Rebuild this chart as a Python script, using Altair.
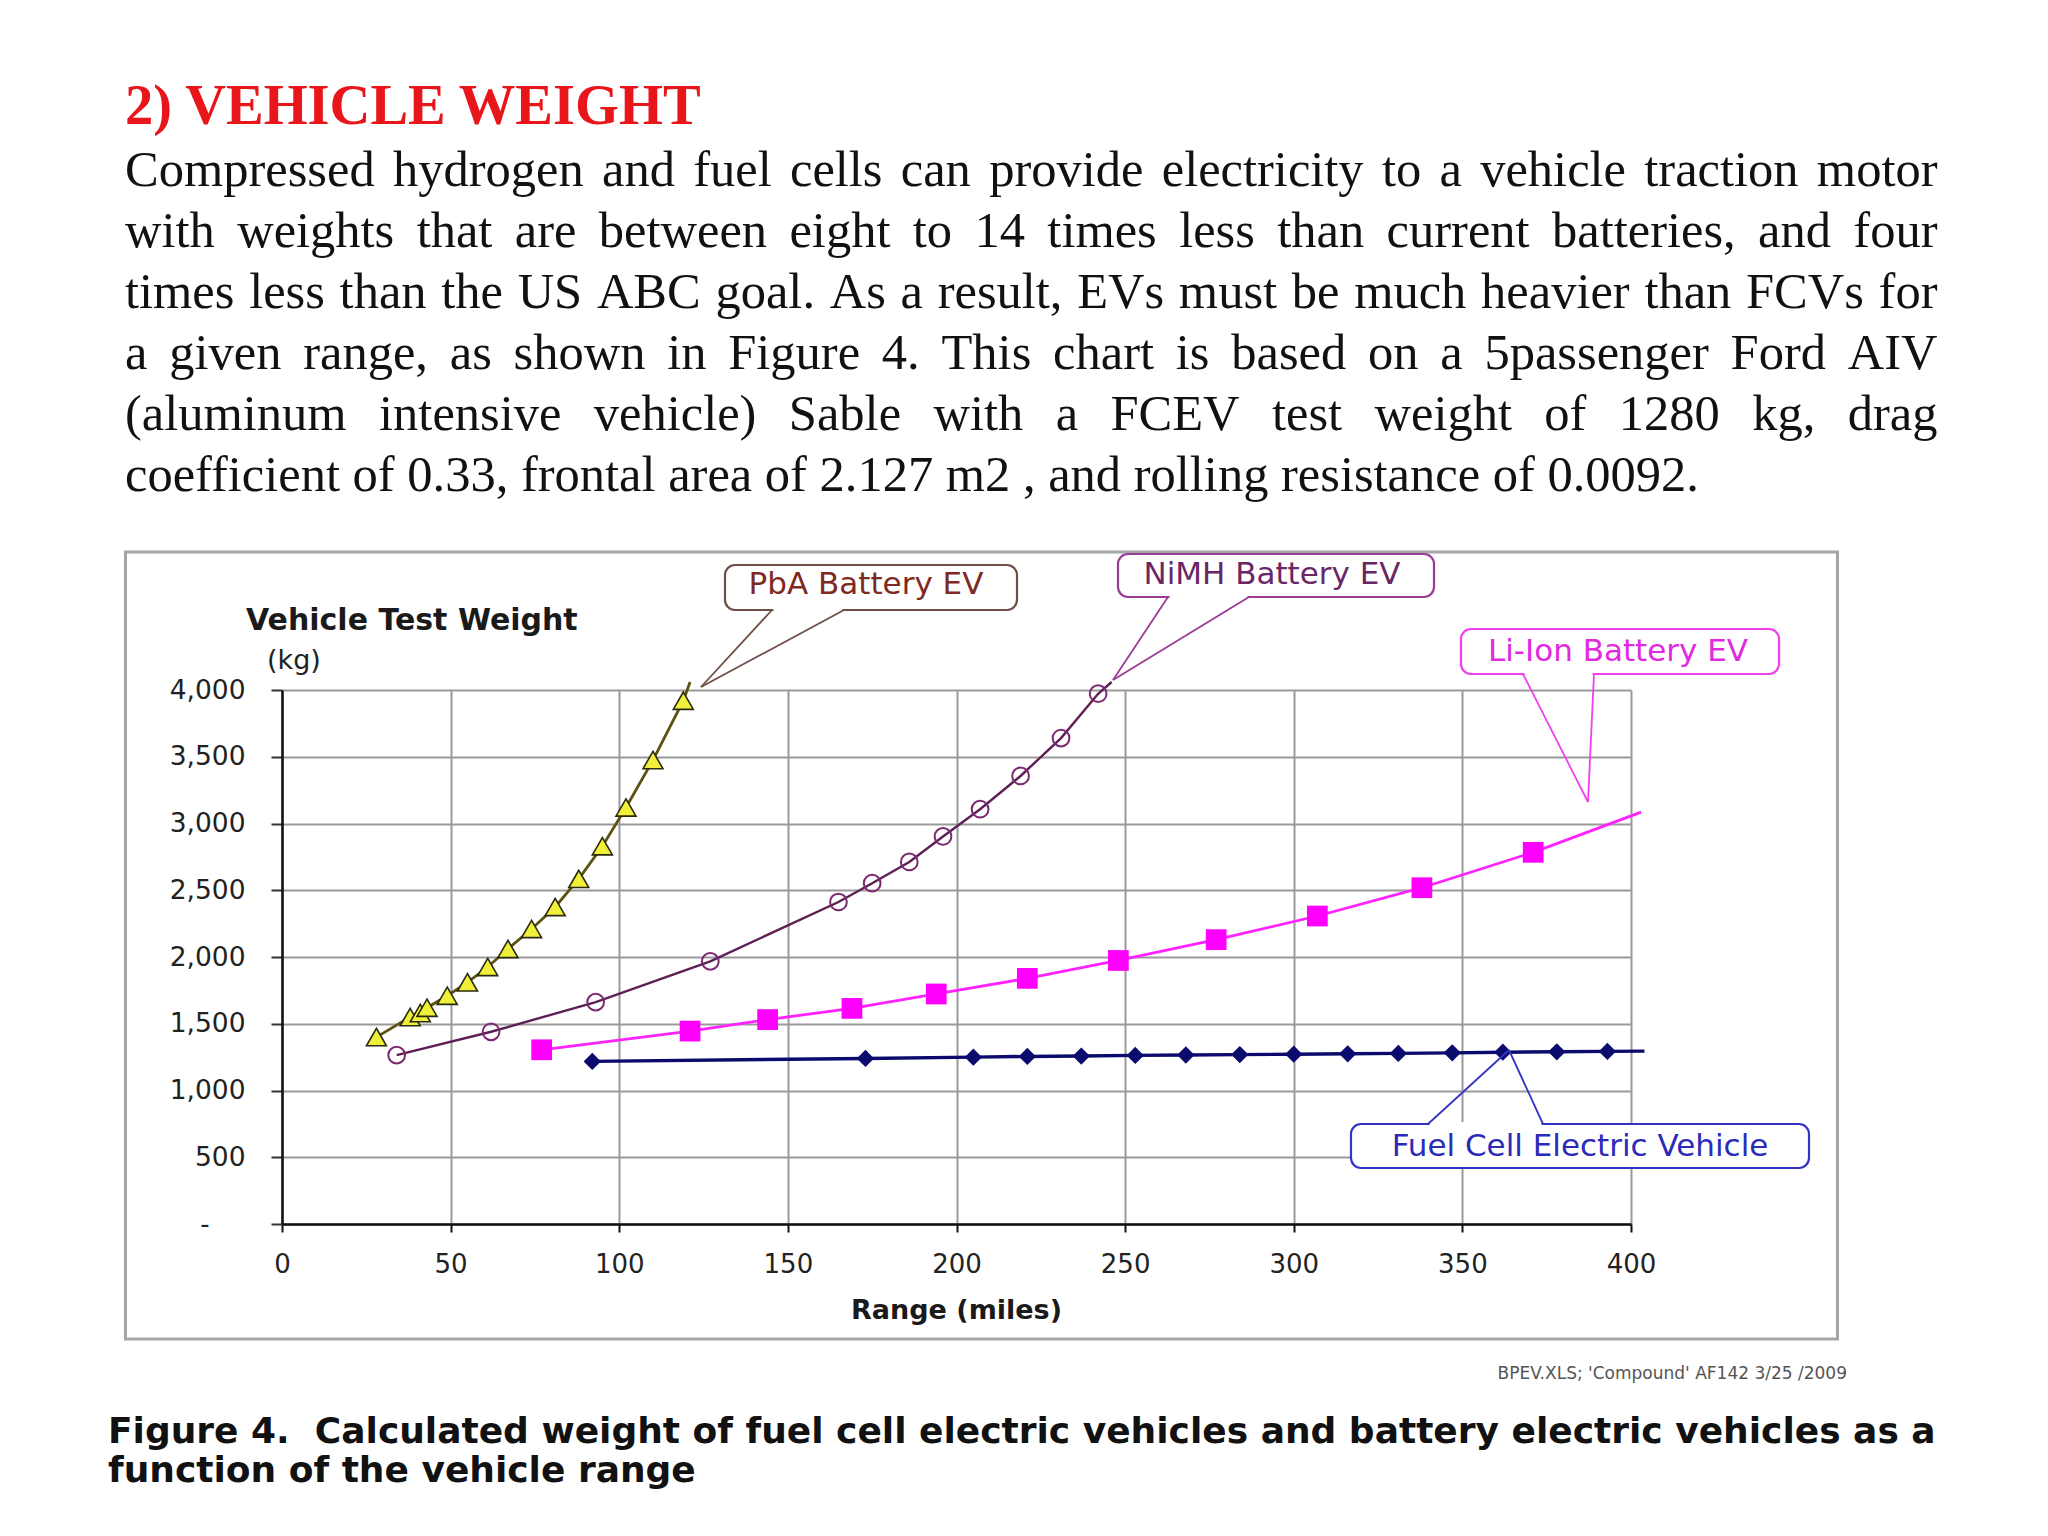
import altair as alt
import pandas as pd

# ---------------- chart data ----------------
pba_range = [28, 38, 41, 43, 49, 55, 61, 67, 74, 81, 88, 95, 102, 110, 119, 121]
pba_weight = [1400, 1550, 1580, 1620, 1710, 1810, 1925, 2060, 2210, 2375, 2585, 2830, 3120, 3475, 3920, 4060]

nimh_range = [34, 62, 93, 127, 165, 175, 186, 196, 207, 219, 231, 242, 246]
nimh_weight = [1265, 1440, 1662, 1967, 2412, 2553, 2712, 2903, 3107, 3356, 3640, 3972, 4060]

li_range = [77, 121, 144, 169, 194, 221, 248, 277, 307, 338, 371, 403]
li_weight = [1305, 1445, 1531, 1615, 1723, 1840, 1974, 2130, 2307, 2519, 2784, 3085]

fc_range = [92, 173, 205, 221, 237, 253, 268, 284, 300, 316, 331, 347, 362, 378, 393, 404]
fc_weight = [1218, 1240, 1250, 1255, 1258, 1263, 1266, 1269, 1272, 1275, 1278, 1282, 1287, 1290, 1293, 1295]

x_ticks = [0, 50, 100, 150, 200, 250, 300, 350, 400]
y_ticks = [0, 500, 1000, 1500, 2000, 2500, 3000, 3500, 4000]

heading = "2) VEHICLE WEIGHT"
para_lines = [
    "Compressed hydrogen and fuel cells can provide electricity to a vehicle traction motor",
    "with weights that are between eight to 14 times less than current batteries, and four",
    "times less than the US ABC goal. As a result, EVs must be much heavier than FCVs for",
    "a given range, as shown in Figure 4. This chart is based on a 5passenger Ford AIV",
    "(aluminum intensive vehicle) Sable with a FCEV test weight of 1280 kg, drag",
    "coefficient of 0.33, frontal area of 2.127 m2 , and rolling resistance of 0.0092.",
]
y_title_1 = "Vehicle Test Weight"
y_title_2 = "(kg)"
x_title = "Range (miles)"
callout_names = ["PbA Battery EV", "NiMH Battery EV", "Li-Ion Battery EV", "Fuel Cell Electric Vehicle"]
source_note = "BPEV.XLS; 'Compound' AF142 3/25 /2009"
caption_lines = [
    "Figure 4.\u00a0 Calculated weight of fuel cell electric vehicles and battery electric vehicles as a",
    "function of the vehicle range",
]

# ---------------- layout (page pixels) ----------------
W, H = 1349, 534          # plot area
OX, OY = 282, 690         # page position of plot origin


def rx(v):
    return v - OX


def ry(v):
    return v - OY


SERIF = "Liberation Serif"
SANS = "DejaVu Sans"

x_scale = alt.Scale(domain=[0, 400], nice=False, zero=False)
y_scale = alt.Scale(domain=[0, 4000], nice=False)
grid_col = "#9a9a9a"
x_axis = alt.Axis(values=x_ticks, title=None, grid=True, gridColor=grid_col, gridWidth=2,
                  domainColor="#111111", domainWidth=2.5, tickColor="#111111", tickWidth=2,
                  tickSize=8, labelFont=SANS, labelFontSize=26, labelColor="#222222",
                  labelPadding=19, labelFlush=False, labelOverlap=False)
y_axis = alt.Axis(values=y_ticks, title=None, grid=True, gridColor=grid_col, gridWidth=2,
                  domainColor="#111111", domainWidth=2.5, tickColor="#333333", tickWidth=2,
                  tickSize=11, labelFont=SANS, labelFontSize=26.5, labelColor="#222222",
                  labelPadding=26, labelOverlap=False,
                  labelExpr="datum.value == 0 ? '' : format(datum.value, ',')")


def series_layers(xs, ys, line_color, line_width, point_kw):
    df = pd.DataFrame({"range": xs, "weight": ys})
    base = alt.Chart(df).encode(
        x=alt.X("range:Q", scale=x_scale, axis=x_axis),
        y=alt.Y("weight:Q", scale=y_scale, axis=y_axis),
    )
    line = base.mark_line(color=line_color, strokeWidth=line_width, clip=False)
    pts = base.transform_filter("datum.range <= 400 && datum.weight <= 4000").mark_point(
        opacity=1, **point_kw)
    return [line, pts]


data_layers = []
data_layers += series_layers(fc_range, fc_weight, "#0b0b6e", 3.4,
                             dict(shape="diamond", size=300, filled=True, color="#0b0b6e"))
data_layers += series_layers(li_range, li_weight, "#ff22ff", 2.8,
                             dict(shape="square", size=430, filled=True, color="#ff00ff"))
data_layers += series_layers(nimh_range, nimh_weight, "#5e1f55", 2.4,
                             dict(shape="circle", size=280, filled=False, color="#7b2a72",
                                  strokeWidth=2))
data_layers += series_layers(pba_range, pba_weight, "#5e5210", 2.8,
                             dict(shape="triangle-up", size=400, filled=True, color="#f0f03a",
                                  stroke="#2a2a10", strokeWidth=1.6))

PX = dict(scale=None, axis=None)


def text_layer(rows, font, size, weight="normal", align="left", baseline="alphabetic"):
    df = pd.DataFrame(rows, columns=["t", "x", "y", "c"])
    return alt.Chart(df).mark_text(font=font, fontSize=size, fontWeight=weight,
                                   align=align, baseline=baseline).encode(
        x=alt.X("x:Q", **PX), y=alt.Y("y:Q", **PX), text="t:N",
        color=alt.Color("c:N", scale=None, legend=None))


# ---- frame around the chart ----
frame_df = pd.DataFrame([{"x": rx(125.5), "x2": rx(1837.5), "y": ry(552), "y2": ry(1339)}])
frame = alt.Chart(frame_df).mark_rect(fillOpacity=0, stroke="#a6a6a6", strokeWidth=3).encode(
    x=alt.X("x:Q", **PX), x2="x2:Q", y=alt.Y("y:Q", **PX), y2="y2:Q")

# ---- callouts ----
callout_geo = [
    # box (x1, y1, x2, y2), pointer base xs, base y, tip, text pos, text colour, border colour
    ((725, 565, 1017, 610), (772, 844), 610, (701, 687), (866, 585), "#7e2a22", "#6e5048"),
    ((1118, 554, 1434, 597), (1168, 1249), 597, (1113, 680), (1272, 575), "#6a2766", "#9a3c94"),
    ((1461, 629, 1779, 674), (1523, 1594), 674, (1588, 802), (1618, 652), "#e02ae0", "#f040f0"),
    ((1351, 1124, 1809, 1168), (1428, 1543), 1124, (1509, 1050), (1580, 1147), "#2b2bb8", "#3434c4"),
]
box_rows, gap_rows, ptr_rows, ctext_rows = [], [], [], []
for name, (box, bx, by, tip, tpos, tc, bc) in zip(callout_names, callout_geo):
    box_rows.append({"x": rx(box[0]), "x2": rx(box[2]), "y": ry(box[1]), "y2": ry(box[3]), "c": bc})
    gap_rows.append({"x": rx(bx[0] + 1.5), "x2": rx(bx[1] - 1.5), "y": ry(by), "y2": ry(by), "c": "#ffffff"})
    for b in bx:
        ptr_rows.append({"x": rx(b), "x2": rx(tip[0]), "y": ry(by), "y2": ry(tip[1]), "c": bc})
    ctext_rows.append((name, rx(tpos[0]), ry(tpos[1]), tc))

boxes = alt.Chart(pd.DataFrame(box_rows)).mark_rect(fill="white", strokeWidth=2.2, cornerRadius=10).encode(
    x=alt.X("x:Q", **PX), x2="x2:Q", y=alt.Y("y:Q", **PX), y2="y2:Q",
    stroke=alt.Stroke("c:N", scale=None, legend=None))
gaps = alt.Chart(pd.DataFrame(gap_rows)).mark_rule(strokeWidth=4).encode(
    x=alt.X("x:Q", **PX), x2="x2:Q", y=alt.Y("y:Q", **PX), y2="y2:Q",
    color=alt.Color("c:N", scale=None, legend=None))
pointers = alt.Chart(pd.DataFrame(ptr_rows)).mark_rule(strokeWidth=1.8).encode(
    x=alt.X("x:Q", **PX), x2="x2:Q", y=alt.Y("y:Q", **PX), y2="y2:Q",
    color=alt.Color("c:N", scale=None, legend=None))
callout_text = text_layer(ctext_rows, SANS, 31, align="center", baseline="middle")

# ---- heading and justified paragraph ----
TNR = {' ': 250, '(': 333, ')': 333, ',': 250, '-': 333, '.': 250, ':': 278, ';': 278,
       'A': 722, 'B': 667, 'C': 667, 'D': 722, 'E': 611, 'F': 556, 'G': 722, 'H': 722, 'I': 333,
       'J': 389, 'K': 722, 'L': 611, 'M': 889, 'N': 722, 'O': 722, 'P': 556, 'Q': 722, 'R': 667,
       'S': 556, 'T': 611, 'U': 722, 'V': 722, 'W': 944, 'X': 722, 'Y': 722, 'Z': 611,
       'a': 444, 'b': 500, 'c': 444, 'd': 500, 'e': 444, 'f': 333, 'g': 500, 'h': 500, 'i': 278,
       'j': 278, 'k': 500, 'l': 278, 'm': 778, 'n': 500, 'o': 500, 'p': 500, 'q': 500, 'r': 333,
       's': 389, 't': 278, 'u': 500, 'v': 500, 'w': 722, 'x': 500, 'y': 500, 'z': 444}
PARA_SIZE = 50.5
PL, PR = 125, 1937.5
para_base = [186, 247, 308, 369, 430, 491]


def tw(s):
    return sum(TNR.get(ch, 500) for ch in s) / 1000.0 * PARA_SIZE


word_rows = {"left": [], "center": [], "right": []}
for i, line in enumerate(para_lines):
    yb = ry(para_base[i])
    if i < len(para_lines) - 1:
        words = line.split(" ")
        ws = [tw(w) for w in words]
        gap = (PR - PL - sum(ws)) / (len(words) - 1)
        cur = PL
        for j, (w, wd) in enumerate(zip(words, ws)):
            if j == 0:
                word_rows["left"].append((w, rx(cur), yb, "#111111"))
            elif j == len(words) - 1:
                word_rows["right"].append((w, rx(PR), yb, "#111111"))
            else:
                word_rows["center"].append((w, rx(cur + wd / 2), yb, "#111111"))
            cur += wd + gap
    else:
        word_rows["left"].append((line, rx(PL), yb, "#111111"))

para_layers = [text_layer(rows, SERIF, PARA_SIZE, align=al) for al, rows in word_rows.items()]
head_layer = text_layer([(heading, rx(125), ry(123.5), "#e8161b")], SERIF, 56.5, weight="bold")

# ---- axis titles, zero dash, notes, caption ----
ytitle1 = text_layer([(y_title_1, rx(246), ry(630), "#1a1a1a")], SANS, 30, weight="bold")
ytitle2 = text_layer([(y_title_2, rx(267), ry(669), "#222222")], SANS, 27)
xtitle = text_layer([(x_title, W / 2, ry(1319), "#1a1a1a")], SANS, 27, weight="bold", align="center")
zero_dash = text_layer([("-", rx(205), ry(1225), "#222222")], SANS, 26, align="center", baseline="middle")
note = text_layer([(source_note, rx(1847), ry(1374), "#555555")], SANS, 17, align="right", baseline="middle")
caption = text_layer([(caption_lines[0], rx(108), ry(1442.5), "#111111"),
                      (caption_lines[1], rx(108), ry(1481.5), "#111111")], SANS, 36, weight="bold")

chart = alt.layer(
    frame, *data_layers, boxes, gaps, pointers, callout_text,
    head_layer, *para_layers, ytitle1, ytitle2, xtitle, zero_dash, note, caption,
).properties(
    width=W, height=H,
    autosize=alt.AutoSizeParams(type="none"),
    padding={"left": OX - 8, "top": OY - 8, "right": 2032 - (OX - 8) - W - 10, "bottom": 1520 - (OY - 8) - H - 10},
    background="white",
).configure_view(strokeWidth=0)

chart.save("out.html", embed_options={"renderer": "svg", "actions": False})
